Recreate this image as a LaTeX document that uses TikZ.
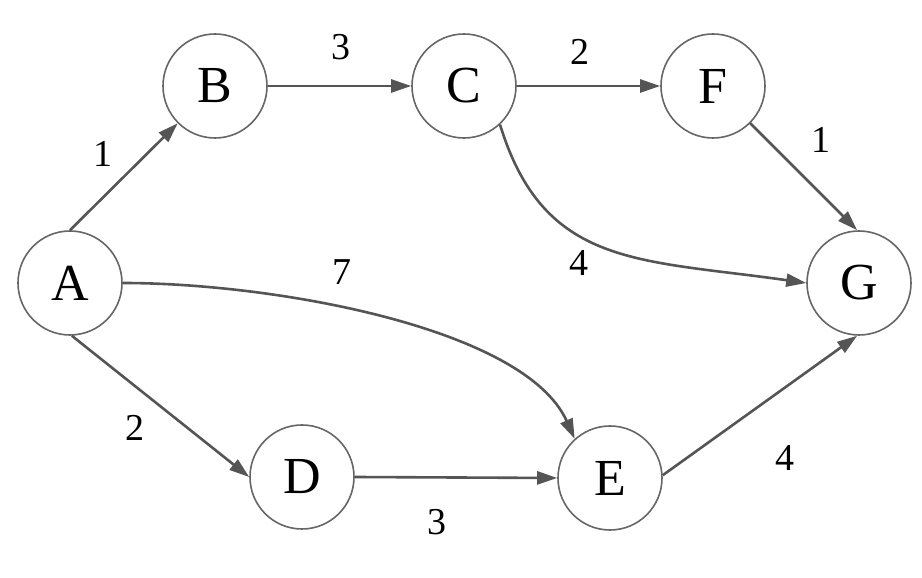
\documentclass[tikz,border=0pt]{standalone}
\usepackage{fontspec}
\setmainfont{Liberation Serif}
\usetikzlibrary{arrows.meta}
\definecolor{edgegray}{HTML}{555555}
\definecolor{ringgray}{HTML}{666666}
\begin{document}
\begin{tikzpicture}[x=1pt,y=1pt,
  vertex/.style={circle,draw=ringgray,line width=1.6pt,minimum size=104pt,inner sep=0pt,
    font=\fontsize{52}{60}\selectfont},
  weight/.style={font=\fontsize{38}{44}\selectfont,inner sep=0pt},
  link/.style={draw=edgegray,line width=2.6pt,-{Triangle[length=20pt,width=13pt]}}]
\useasboundingbox (0,0) rectangle (922,578);
\node[vertex] (A) at (70,295) {A};
\node[vertex] (B) at (215,492) {B};
\node[vertex] (C) at (464,492) {C};
\node[vertex] (F) at (713,492) {F};
\node[vertex] (G) at (859,295) {G};
\node[vertex] (D) at (302,101) {D};
\node[vertex] (E) at (610,100) {E};
\node[weight] (wAB) at (103,424) {1};
\node[weight] (wBC) at (341,531) {3};
\node[weight] (wCF) at (580,526) {2};
\node[weight] (wFG) at (821,438) {1};
\node[weight] (wAE) at (342,306) {7};
\node[weight] (wCG) at (579,315) {4};
\node[weight] (wAD) at (135,150) {2};
\node[weight] (wDE) at (437,56) {3};
\node[weight] (wEG) at (785,120) {4};
\draw[link] (A.north) -- (B.225);
\draw[link] (B.east) -- (C.west);
\draw[link] (C.east) -- (F.west);
\draw[link] (F.-45) -- (G.92);
\draw[link] (A.-88) -- (D.west);
\draw[link] (D.east) -- (E.west);
\draw[link] (E.3) -- (G.-92);
\draw[link] (A.east) .. controls +(151,0) and +(-50,111) .. (E.132);
\draw[link] (C.-47) .. controls +(44,-143) and +(-168,24) .. (G.west);
\end{tikzpicture}
\end{document}
